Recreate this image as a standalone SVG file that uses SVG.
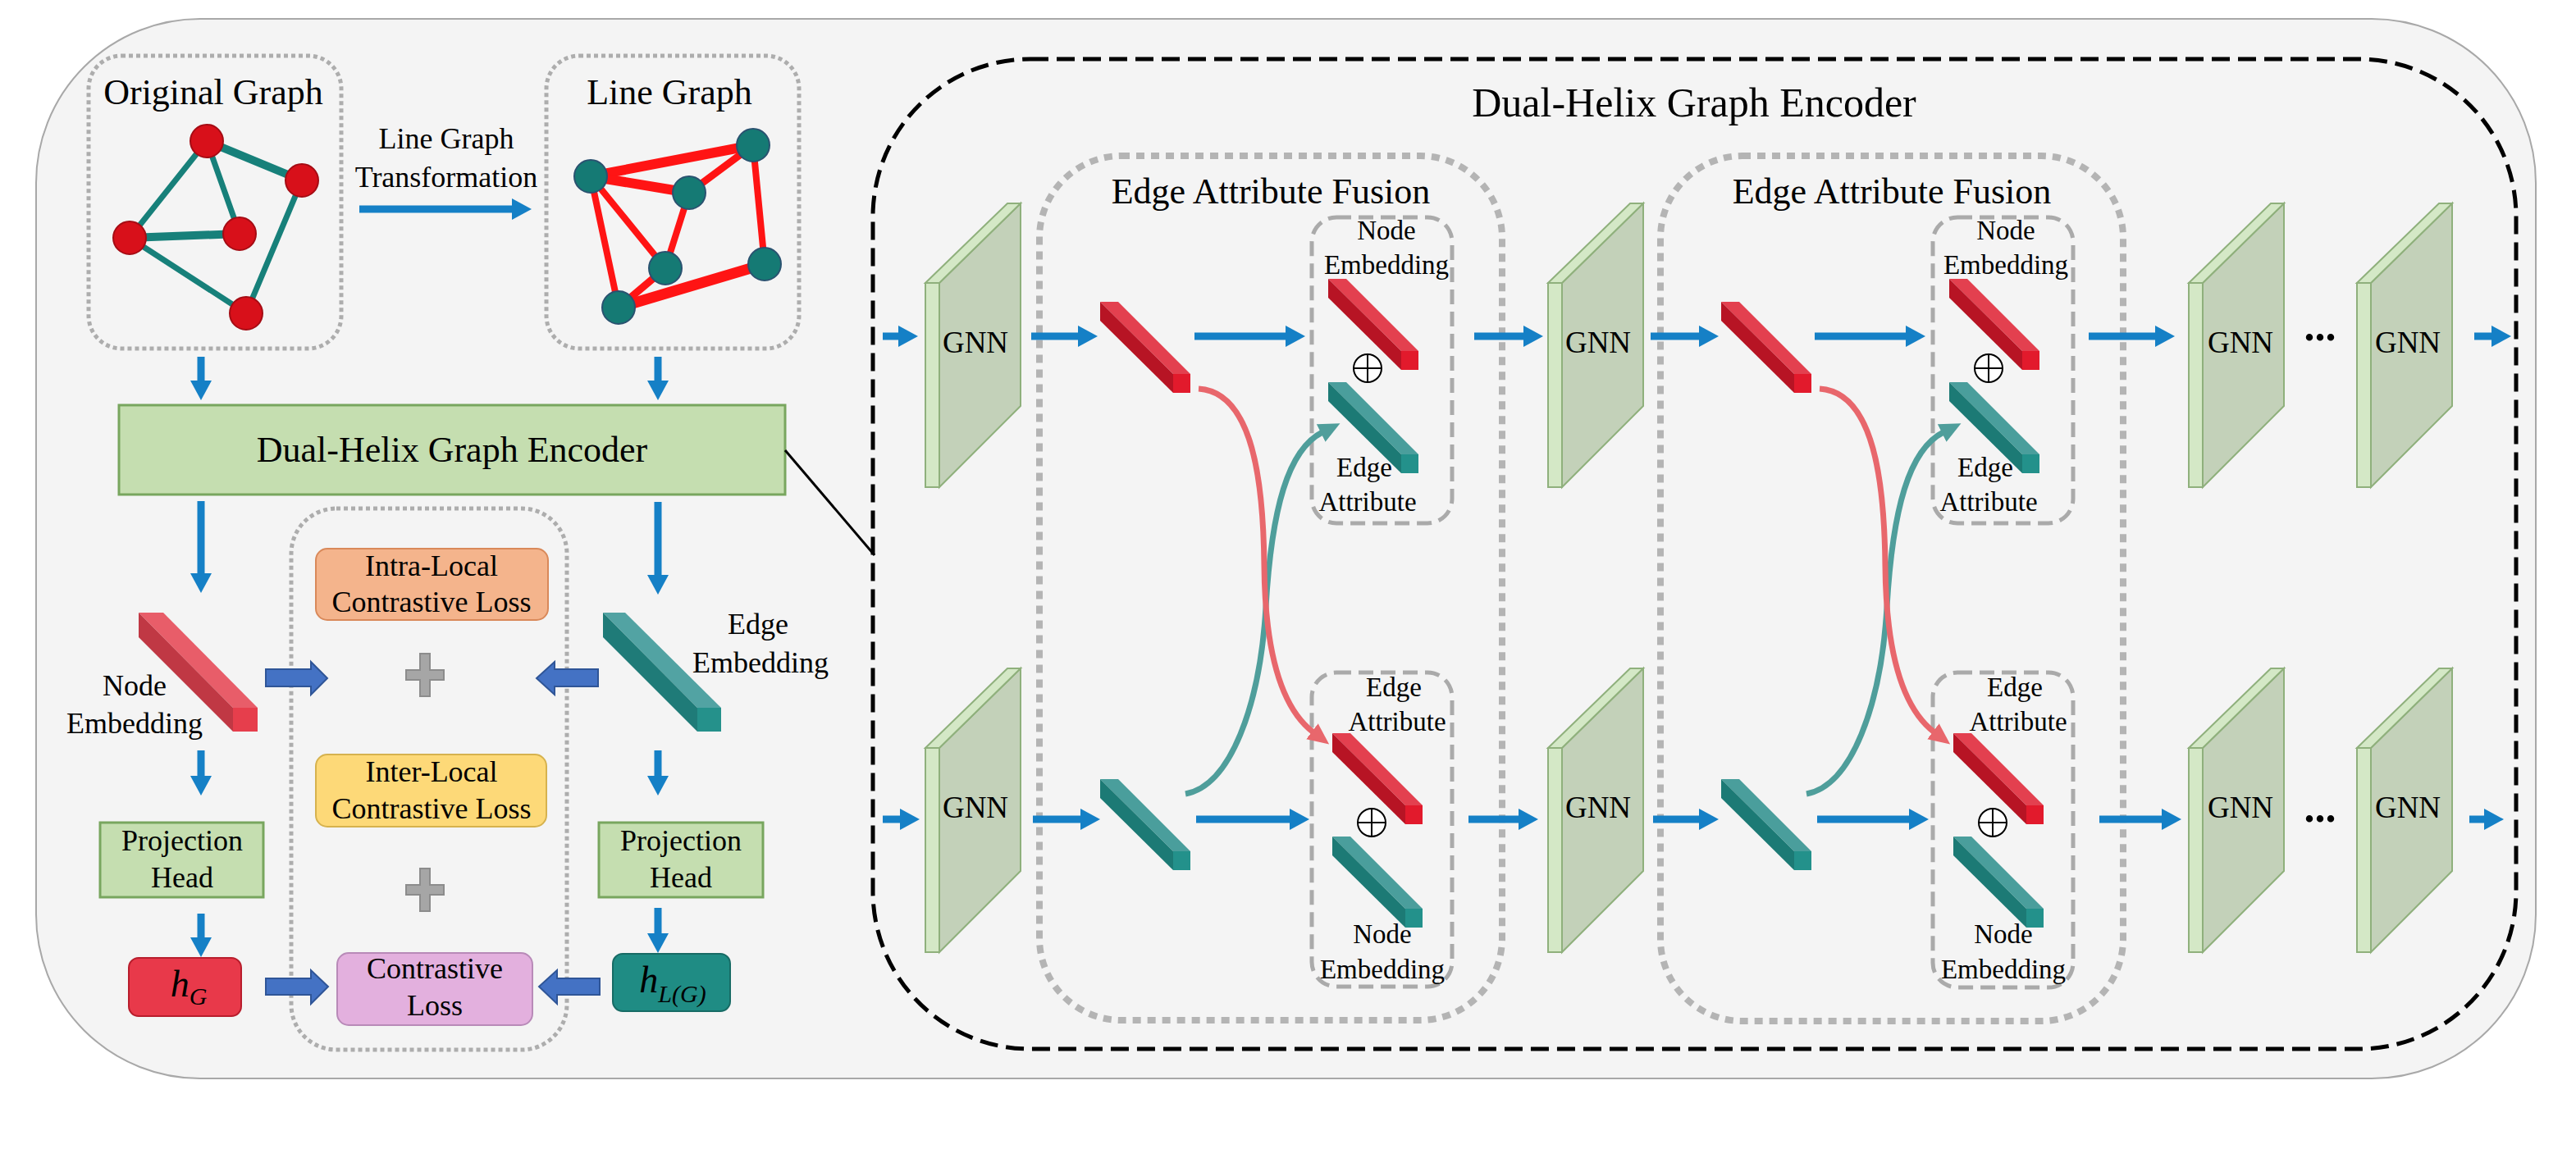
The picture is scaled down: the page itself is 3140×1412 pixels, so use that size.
<svg xmlns="http://www.w3.org/2000/svg" width="3140" height="1412" viewBox="0 0 3140 1412">
<defs>
<style>
.t{font-family:"Liberation Serif","Times New Roman",serif;fill:#000;text-anchor:middle}
.f50{font-size:50px}
.f44{font-size:44px}
.f37{font-size:37px}
.f36{font-size:36px}
.f33{font-size:33px}
.blue{stroke:#1580c6;stroke-width:9;fill:none;marker-end:url(#ah)}
.dotbox{fill:none;stroke:#adadad;stroke-width:5;stroke-dasharray:5 4}
.eaf{fill:none;stroke:#b4b4b4;stroke-width:8;stroke-dasharray:10 8}
.inner{fill:none;stroke:#aaaaaa;stroke-width:5;stroke-dasharray:18 9}
.tealE{stroke:#17807a;stroke-linecap:round}
.redE{stroke:#ff1414;stroke-linecap:round}
.rnode{fill:#d8101a;stroke:#a50c14;stroke-width:2}
.tnode{fill:#157a74;stroke:#2a5270;stroke-width:2}
.green{fill:#c5deb0;stroke:#78a65e;stroke-width:3}
.cR{fill:none;stroke:#e8676c;stroke-width:7;marker-end:url(#ahR)}
.cT{fill:none;stroke:#4f9e9b;stroke-width:7;marker-end:url(#ahT)}
.blk{fill:#4472c4;stroke:#2f5597;stroke-width:2}
.plus{fill:#a6a6a6;stroke:#8c8c8c;stroke-width:2}
</style>
<marker id="ah" markerUnits="userSpaceOnUse" markerWidth="24" markerHeight="26" viewBox="0 0 24 26" refX="1" refY="13" orient="auto"><path d="M0,0 L24,13 L0,26 z" fill="#1580c6"/></marker>
<marker id="ahR" markerUnits="userSpaceOnUse" markerWidth="26" markerHeight="24" viewBox="0 0 26 24" refX="2" refY="12" orient="auto"><path d="M0,0 L26,12 L0,24 z" fill="#e8676c"/></marker>
<marker id="ahT" markerUnits="userSpaceOnUse" markerWidth="26" markerHeight="24" viewBox="0 0 26 24" refX="2" refY="12" orient="auto"><path d="M0,0 L26,12 L0,24 z" fill="#4f9e9b"/></marker>
<g id="gnnShape">
<polygon points="17,0 116,-97 116,150 17,249" fill="#c3d1b9" stroke="#8fb07c" stroke-width="2"/>
<polygon points="0,0 100,-97 116,-97 17,0" fill="#d4e8c6" stroke="#8fb07c" stroke-width="2"/>
<polygon points="0,0 17,0 17,249 0,249" fill="#d4e8c6" stroke="#8fb07c" stroke-width="2"/>
</g>
<g id="barRed">
<polygon points="0,0 22,0 110,88 89,88" fill="#e3404f"/>
<polygon points="0,0 0,23 89,111 89,88" fill="#b71424"/>
<polygon points="89,88 110,88 110,111 89,111" fill="#e21a2c"/>
</g>
<g id="barTeal">
<polygon points="0,0 22,0 110,88 89,88" fill="#4a9e9c"/>
<polygon points="0,0 0,23 89,111 89,88" fill="#1c7a75"/>
<polygon points="89,88 110,88 110,111 89,111" fill="#23918b"/>
</g>
<g id="oplus">
<circle cx="0" cy="0" r="17" fill="#fff" stroke="#000" stroke-width="2"/>
<path d="M-17,0 H17 M0,-17 V17" stroke="#000" stroke-width="2"/>
</g>
<g id="plusSign">
<path class="plus" d="M-6,-26 H6 V-6 H23 V6 H6 V26 H-6 V6 H-23 V-6 H-6 Z"/>
</g>
</defs>

<rect x="0" y="0" width="3140" height="1412" fill="#ffffff"/>
<rect id="outer" x="44" y="23" width="3047" height="1292" rx="200" ry="200" fill="#f4f4f4" stroke="#a8a8a8" stroke-width="2"/>

<!-- Left panel -->
<g id="original-graph">
<rect class="dotbox" x="108" y="68" width="308" height="357" rx="40"/>
<text class="t f44" x="260" y="127">Original Graph</text>
<line class="tealE" x1="252" y1="172" x2="368" y2="220" stroke-width="10"/>
<line class="tealE" x1="252" y1="172" x2="158" y2="290" stroke-width="7"/>
<line class="tealE" x1="252" y1="172" x2="292" y2="285" stroke-width="7"/>
<line class="tealE" x1="158" y1="290" x2="292" y2="285" stroke-width="10"/>
<line class="tealE" x1="158" y1="290" x2="300" y2="382" stroke-width="7"/>
<line class="tealE" x1="368" y1="220" x2="300" y2="382" stroke-width="7"/>
<circle class="rnode" cx="252" cy="172" r="20"/>
<circle class="rnode" cx="368" cy="220" r="20"/>
<circle class="rnode" cx="292" cy="285" r="20"/>
<circle class="rnode" cx="158" cy="290" r="20"/>
<circle class="rnode" cx="300" cy="382" r="20"/>
</g>

<g id="line-graph">
<rect class="dotbox" x="666" y="68" width="308" height="357" rx="40"/>
<text class="t f44" x="816" y="127">Line Graph</text>
<line class="redE" x1="720" y1="215" x2="918" y2="177" stroke-width="12"/>
<line class="redE" x1="840" y1="235" x2="918" y2="177" stroke-width="9"/>
<line class="redE" x1="720" y1="215" x2="840" y2="235" stroke-width="12"/>
<line class="redE" x1="720" y1="215" x2="811" y2="327" stroke-width="8"/>
<line class="redE" x1="840" y1="235" x2="811" y2="327" stroke-width="8"/>
<line class="redE" x1="720" y1="215" x2="754" y2="375" stroke-width="8"/>
<line class="redE" x1="918" y1="177" x2="932" y2="322" stroke-width="8"/>
<line class="redE" x1="754" y1="375" x2="811" y2="327" stroke-width="9"/>
<line class="redE" x1="754" y1="375" x2="932" y2="322" stroke-width="13"/>
<circle class="tnode" cx="918" cy="177" r="20"/>
<circle class="tnode" cx="720" cy="215" r="20"/>
<circle class="tnode" cx="840" cy="235" r="20"/>
<circle class="tnode" cx="811" cy="327" r="20"/>
<circle class="tnode" cx="932" cy="322" r="20"/>
<circle class="tnode" cx="754" cy="375" r="20"/>
</g>

<g id="transform-label">
<text class="t f36" x="544" y="181">Line Graph</text>
<text class="t f36" x="544" y="228">Transformation</text>
</g>

<g id="dhge-box">
<rect class="green" x="145" y="494" width="812" height="109"/>
<text class="t f44" x="551" y="563">Dual-Helix Graph Encoder</text>
</g>

<g id="node-embedding">
<polygon points="169,747 199,747 314,863 284,863" fill="#e85d69"/>
<polygon points="169,747 169,777 284,892 284,863" fill="#c03844"/>
<polygon points="284,863 314,863 314,892 284,892" fill="#e63e4c"/>
<text class="t f36" x="164" y="848">Node</text>
<text class="t f36" x="164" y="894">Embedding</text>
</g>

<g id="edge-embedding">
<polygon points="735,747 762,747 879,863 850,863" fill="#52a3a3"/>
<polygon points="735,747 735,777 850,892 850,863" fill="#1f7b78"/>
<polygon points="850,863 879,863 879,892 850,892" fill="#25918b"/>
<text class="t f36" x="924" y="773">Edge</text>
<text class="t f36" x="927" y="820">Embedding</text>
</g>

<g id="loss-group">
<rect class="dotbox" x="355" y="620" width="336" height="660" rx="55"/>
</g>

<g id="intra-loss">
<rect x="385" y="669" width="283" height="87" rx="14" fill="#f4b48c" stroke="#d9895a" stroke-width="2"/>
<text class="t f36" x="526" y="702">Intra-Local</text>
<text class="t f36" x="526" y="746">Contrastive Loss</text>
</g>
<g id="plus1"><use href="#plusSign" x="518" y="823"/></g>
<g id="inter-loss">
<rect x="385" y="920" width="281" height="88" rx="14" fill="#fdd978" stroke="#d6b24e" stroke-width="2"/>
<text class="t f36" x="526" y="953">Inter-Local</text>
<text class="t f36" x="526" y="998">Contrastive Loss</text>
</g>
<g id="plus2"><use href="#plusSign" x="518" y="1085"/></g>
<g id="contrastive-loss">
<rect x="411" y="1162" width="238" height="88" rx="14" fill="#e3b0de" stroke="#b88ab8" stroke-width="2"/>
<text class="t f36" x="530" y="1193">Contrastive</text>
<text class="t f36" x="530" y="1238">Loss</text>
</g>

<g id="proj-head-left">
<rect class="green" x="122" y="1003" width="199" height="91"/>
<text class="t f36" x="222" y="1037">Projection</text>
<text class="t f36" x="222" y="1082">Head</text>
</g>
<g id="proj-head-right">
<rect class="green" x="730" y="1003" width="200" height="91"/>
<text class="t f36" x="830" y="1037">Projection</text>
<text class="t f36" x="830" y="1082">Head</text>
</g>

<g id="hG">
<rect x="157" y="1168" width="137" height="71" rx="12" fill="#e8394a" stroke="#b81d2c" stroke-width="2"/>
<text class="t" x="230" y="1215" font-size="46"><tspan font-style="italic">h</tspan><tspan font-style="italic" font-size="30" dy="10">G</tspan></text>
</g>
<g id="hLG">
<rect x="747" y="1163" width="143" height="70" rx="12" fill="#1f8c84" stroke="#176b65" stroke-width="2"/>
<text class="t" x="820" y="1210" font-size="46"><tspan font-style="italic">h</tspan><tspan font-style="italic" font-size="30" dy="12">L(G)</tspan></text>
</g>

<!-- Right panel -->
<g id="dhge-detail">
<rect x="1064" y="72" width="2003" height="1207" rx="192" fill="none" stroke="#000" stroke-width="5" stroke-dasharray="22 10"/>
<text class="t f50" x="2065" y="142">Dual-Helix Graph Encoder</text>
</g>

<g id="eaf1">
<rect class="eaf" x="1267" y="190" width="564" height="1054" rx="100"/>
<text class="t f44" x="1549" y="248">Edge Attribute Fusion</text>
</g>
<g id="eaf2">
<rect class="eaf" x="2024" y="190" width="564" height="1055" rx="100"/>
<text class="t f44" x="2306" y="248">Edge Attribute Fusion</text>
</g>

<g id="fuse1-top">
<rect class="inner" x="1599" y="265" width="171" height="373" rx="30"/>
<text class="t f33" x="1690" y="292">Node</text>
<text class="t f33" x="1690" y="334">Embedding</text>
<text class="t f33" x="1663" y="581">Edge</text>
<text class="t f33" x="1667" y="623">Attribute</text>
<use href="#barRed" x="1619" y="340"/>
<use href="#barTeal" x="1619" y="466"/>
<use href="#oplus" x="1667" y="449"/>
</g>
<g id="fuse1-bottom">
<rect class="inner" x="1599" y="820" width="171" height="383" rx="30"/>
<text class="t f33" x="1699" y="849">Edge</text>
<text class="t f33" x="1703" y="891">Attribute</text>
<text class="t f33" x="1685" y="1150">Node</text>
<text class="t f33" x="1685" y="1193">Embedding</text>
<use href="#barRed" x="1624" y="894"/>
<use href="#barTeal" x="1624" y="1020"/>
<use href="#oplus" x="1672" y="1003"/>
</g>
<g id="fuse2-top">
<rect class="inner" x="2356" y="265" width="171" height="373" rx="30"/>
<text class="t f33" x="2445" y="292">Node</text>
<text class="t f33" x="2445" y="334">Embedding</text>
<text class="t f33" x="2420" y="581">Edge</text>
<text class="t f33" x="2424" y="623">Attribute</text>
<use href="#barRed" x="2376" y="340"/>
<use href="#barTeal" x="2376" y="466"/>
<use href="#oplus" x="2424" y="449"/>
</g>
<g id="fuse2-bottom">
<rect class="inner" x="2356" y="820" width="171" height="384" rx="30"/>
<text class="t f33" x="2456" y="849">Edge</text>
<text class="t f33" x="2460" y="891">Attribute</text>
<text class="t f33" x="2442" y="1150">Node</text>
<text class="t f33" x="2442" y="1193">Embedding</text>
<use href="#barRed" x="2381" y="894"/>
<use href="#barTeal" x="2381" y="1020"/>
<use href="#oplus" x="2429" y="1003"/>
</g>

<g id="node-bar1"><use href="#barRed" x="1341" y="368"/></g>
<g id="edge-bar1"><use href="#barTeal" x="1341" y="950"/></g>
<g id="node-bar2"><use href="#barRed" x="2098" y="368"/></g>
<g id="edge-bar2"><use href="#barTeal" x="2098" y="950"/></g>

<g id="gnn-top-1"><use href="#gnnShape" x="1128" y="345"/><text class="t f37" x="1189" y="430">GNN</text></g>
<g id="gnn-top-2"><use href="#gnnShape" x="1887" y="345"/><text class="t f37" x="1948" y="430">GNN</text></g>
<g id="gnn-top-3"><use href="#gnnShape" x="2668" y="345"/><text class="t f37" x="2731" y="430">GNN</text></g>
<g id="gnn-top-4"><use href="#gnnShape" x="2873" y="345"/><text class="t f37" x="2935" y="430">GNN</text></g>
<g id="gnn-bot-1"><use href="#gnnShape" x="1128" y="912"/><text class="t f37" x="1189" y="997">GNN</text></g>
<g id="gnn-bot-2"><use href="#gnnShape" x="1887" y="912"/><text class="t f37" x="1948" y="997">GNN</text></g>
<g id="gnn-bot-3"><use href="#gnnShape" x="2668" y="912"/><text class="t f37" x="2731" y="997">GNN</text></g>
<g id="gnn-bot-4"><use href="#gnnShape" x="2873" y="912"/><text class="t f37" x="2935" y="997">GNN</text></g>
<g id="dots-top"><text class="t" x="2828" y="415" font-size="52" font-weight="bold">...</text></g>
<g id="dots-bot"><text class="t" x="2828" y="1002" font-size="52" font-weight="bold">...</text></g>

<!-- Connectors -->
<g id="connectors">
<line class="blue" x1="438" y1="255" x2="625" y2="255"/>
<line class="blue" x1="245" y1="435" x2="245" y2="465"/>
<line class="blue" x1="802" y1="435" x2="802" y2="465"/>
<line class="blue" x1="245" y1="611" x2="245" y2="700"/>
<line class="blue" x1="802" y1="612" x2="802" y2="702"/>
<line class="blue" x1="245" y1="915" x2="245" y2="947"/>
<line class="blue" x1="802" y1="915" x2="802" y2="947"/>
<line class="blue" x1="245" y1="1114" x2="245" y2="1144"/>
<line class="blue" x1="802" y1="1107" x2="802" y2="1139"/>
<polygon class="blk" points="324,816 379,816 379,807 399,827 379,847 379,837 324,837"/>
<polygon class="blk" points="729,816 676,816 676,807 654,827 676,847 676,837 729,837"/>
<polygon class="blk" points="324,1193 379,1193 379,1183 400,1203 379,1224 379,1213 324,1213"/>
<polygon class="blk" points="731,1193 679,1193 679,1183 657,1203 679,1224 679,1213 731,1213"/>
<line x1="957" y1="549" x2="1066" y2="677" stroke="#000" stroke-width="3"/>

<line class="blue" x1="1076" y1="410" x2="1096" y2="410"/>
<line class="blue" x1="1257" y1="410" x2="1315" y2="410"/>
<line class="blue" x1="1456" y1="410" x2="1568" y2="410"/>
<line class="blue" x1="1797" y1="410" x2="1858" y2="410"/>
<line class="blue" x1="2012" y1="410" x2="2072" y2="410"/>
<line class="blue" x1="2212" y1="410" x2="2324" y2="410"/>
<line class="blue" x1="2546" y1="410" x2="2628" y2="410"/>
<line class="blue" x1="3016" y1="410" x2="3038" y2="410"/>

<line class="blue" x1="1076" y1="999" x2="1098" y2="999"/>
<line class="blue" x1="1259" y1="999" x2="1318" y2="999"/>
<line class="blue" x1="1458" y1="999" x2="1573" y2="999"/>
<line class="blue" x1="1790" y1="999" x2="1852" y2="999"/>
<line class="blue" x1="2015" y1="999" x2="2072" y2="999"/>
<line class="blue" x1="2215" y1="999" x2="2328" y2="999"/>
<line class="blue" x1="2559" y1="999" x2="2636" y2="999"/>
<line class="blue" x1="3010" y1="999" x2="3029" y2="999"/>

<path class="cT" d="M1445,968 C1500,958 1536,860 1543,740 C1550,620 1570,548 1612,527"/>
<path class="cR" d="M1461,474 C1528,478 1540,590 1541,690 C1542,790 1560,862 1601,893"/>
<path class="cT" d="M2202,968 C2257,958 2293,860 2300,740 C2307,620 2327,548 2369,527"/>
<path class="cR" d="M2218,474 C2285,478 2297,590 2298,690 C2299,790 2317,862 2358,893"/>
</g>
</svg>
